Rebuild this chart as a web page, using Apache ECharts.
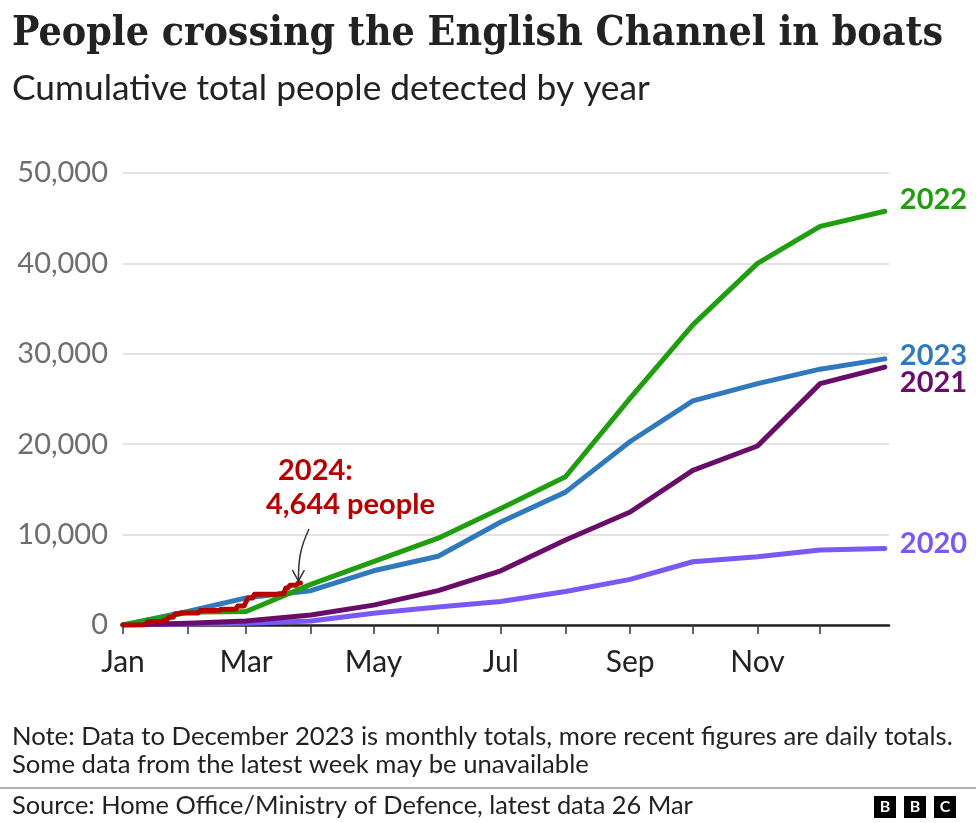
<!DOCTYPE html>
<html><head><meta charset="utf-8">
<script src="https://cdn.jsdelivr.net/npm/echarts@6/dist/echarts.min.js"></script>
<style>html,body{margin:0;padding:0;background:#fff}#c{width:976px;height:823px}</style>
</head><body><div id="c"></div>
<script>
// ---- data ----
const monthStartDays = [0, 31, 59, 90, 120, 151, 181, 212, 243, 273, 304, 334, 365];
const monthNames = ['Jan','Feb','Mar','Apr','May','Jun','Jul','Aug','Sep','Oct','Nov','Dec'];
const labeledDays = [0, 59, 120, 181, 243, 304];
const yearNames = ['2020', '2021', '2022', '2023'];
const cum2020 = [0, 100, 200, 450, 1300, 2000, 2600, 3700, 5050, 7000, 7550, 8300, 8470];
const cum2021 = [0, 200, 450, 1100, 2200, 3800, 6000, 9400, 12500, 17100, 19800, 26700, 28530];
const cum2022 = [0, 1400, 1500, 4500, 7000, 9600, 12900, 16400, 25100, 33200, 40000, 44100, 45770];
const cum2023 = [0, 1500, 3000, 3800, 6000, 7600, 11400, 14700, 20300, 24800, 26700, 28300, 29440];
// 2024 daily cumulative, 1 Jan (day 0) to 26 Mar (day 85)
const cum2024Daily = [
  0, 0, 0, 0, 0, 0, 0, 0, 0, 0,
  0, 150, 358, 358, 358, 358, 358, 358, 358, 358,
  550, 550, 870, 870, 870, 1250, 1250, 1250, 1330, 1330,
  1330, 1330, 1330, 1330, 1330, 1330, 1330, 1600, 1600, 1600,
  1600, 1600, 1600, 1600, 1600, 1600, 1600, 1750, 1750, 1750,
  1750, 1750, 1750, 1750, 1750, 2100, 2100, 2100, 2100, 2600,
  3000, 3000, 3000, 3400, 3400, 3400, 3400, 3400, 3400, 3400,
  3400, 3400, 3400, 3400, 3400, 3450, 3450, 3450, 4100, 4100,
  4400, 4400, 4400, 4400, 4644, 4644
];
const total2024 = 4644;

const colors = { '2020': '#7b57f3', '2021': '#6a0c6a', '2022': '#1f9e0f', '2023': '#3079bd', '2024': '#b80000' };
const endOffsets = { '2020': -5, '2021': 16, '2022': -12, '2023': -3 };
const yearData = { '2020': cum2020, '2021': cum2021, '2022': cum2022, '2023': cum2023 };

const SANS = 'Lato, "Noto Sans", sans-serif';
const SERIF = '"DejaVu Serif Condensed", "DejaVu Serif", serif';
function fit(text, family, weight, target) {
  const ctx = document.createElement('canvas').getContext('2d');
  ctx.font = weight + ' 100px ' + family;
  return 100 * target / ctx.measureText(text).width;
}

const chart = echarts.init(document.getElementById('c'), null, { renderer: 'canvas' });

const series = ['2020','2021','2023','2022'].map(y => ({
  name: y, type: 'line', showSymbol: false, symbol: 'none',
  data: yearData[y].map((v, i) => [monthStartDays[i], v]),
  lineStyle: { color: colors[y], width: 5, cap: 'round', join: 'round' },
  itemStyle: { color: colors[y] },
  endLabel: {
    show: true, formatter: y, color: colors[y], fontFamily: SANS, fontWeight: 'bold',
    fontSize: 29, distance: 15, offset: [0, endOffsets[y]]
  },
  z: 3, silent: true, animation: false
}));
series.push({
  name: '2024', type: 'line', showSymbol: false, symbol: 'none',
  data: cum2024Daily.map((v, i) => [i, v]),
  lineStyle: { color: colors['2024'], width: 5, cap: 'round', join: 'round' },
  z: 4, silent: true, animation: false
});

const titleText = 'People crossing the English Channel in boats';
const subText = 'Cumulative total people detected by year';
const note1 = 'Note: Data to December 2023 is monthly totals, more recent figures are daily totals.';
const note2 = 'Some data from the latest week may be unavailable';
const source = 'Source: Home Office/Ministry of Defence, latest data 26 Mar';

const titleSize = fit(titleText, SERIF, 'bold', 931);
const subSize = fit(subText, SANS, 'normal', 638);
const noteSize = fit(note1, SANS, 'normal', 941);
const srcSize = fit(source, SANS, 'normal', 681);

const option = {
  animation: false,
  grid: { left: 123, right: 976 - 889, top: 173, bottom: 823 - 625, containLabel: false },
  xAxis: {
    type: 'value', min: 0, max: 367,
    axisLine: { show: true, lineStyle: { color: '#222', width: 2.5 } },
    axisTick: { show: true, customValues: monthStartDays.slice(0, 12), length: 9, lineStyle: { color: '#333', width: 1.5 } },
    axisLabel: {
      customValues: labeledDays, fontFamily: SANS, fontSize: 30, color: '#222', margin: 22,
      formatter: v => monthNames[monthStartDays.indexOf(v)]
    },
    splitLine: { show: false }
  },
  yAxis: {
    type: 'value', min: 0, max: 50000, interval: 10000,
    axisLine: { show: false }, axisTick: { show: false },
    axisLabel: { fontFamily: SANS, fontSize: 29, color: '#6e6e6e', margin: 15,
      formatter: v => v.toLocaleString('en-GB') },
    splitLine: { lineStyle: { color: '#d9d9d9', width: 1.5 } }
  },
  series: series,
  graphic: []
};
chart.setOption(option);

const endPt = chart.convertToPixel({ xAxisIndex: 0, yAxisIndex: 0 }, [cum2024Daily.length - 1, total2024]);
const ax = endPt[0] - 2, ay = endPt[1] - 2;

chart.setOption({
  graphic: [
    { type: 'text', left: 12, top: 14, style: { text: titleText, font: 'bold ' + titleSize.toFixed(2) + 'px ' + SERIF, fill: '#222' } },
    { type: 'text', left: 12, top: 71, style: { text: subText, font: subSize.toFixed(2) + 'px ' + SANS, fill: '#222' } },
    { type: 'text', left: 278, top: 456, style: { text: '2024:', font: 'bold 29px ' + SANS, fill: colors['2024'] } },
    { type: 'text', left: 266, top: 490, style: { text: total2024.toLocaleString('en-GB') + ' people', font: 'bold 29px ' + SANS, fill: colors['2024'] } },
    { type: 'bezierCurve', shape: { x1: 309, y1: 529, cpx1: 300, cpy1: 548, cpx2: ax, cpy2: 560, x2: ax, y2: ay },
      style: { stroke: '#333', lineWidth: 1.5, fill: null }, z: 10 },
    { type: 'polyline', shape: { points: [[ax - 6, ay - 11], [ax, ay], [ax + 6, ay - 11]] },
      style: { stroke: '#333', lineWidth: 1.5, fill: null }, z: 10 },
    { type: 'text', left: 12, top: 724, style: { text: note1, font: noteSize.toFixed(2) + 'px ' + SANS, fill: '#222' } },
    { type: 'text', left: 12, top: 752, style: { text: note2, font: noteSize.toFixed(2) + 'px ' + SANS, fill: '#222' } },
    { type: 'line', shape: { x1: 0, y1: 788, x2: 976, y2: 788 }, style: { stroke: '#9a9a9a', lineWidth: 1.5 } },
    { type: 'text', left: 12, top: 793, style: { text: source, font: srcSize.toFixed(2) + 'px ' + SANS, fill: '#222' } },
    { type: 'rect', shape: { x: 874, y: 796, width: 22, height: 22 }, style: { fill: '#000' } },
    { type: 'rect', shape: { x: 904, y: 796, width: 22, height: 22 }, style: { fill: '#000' } },
    { type: 'rect', shape: { x: 934, y: 796, width: 22, height: 22 }, style: { fill: '#000' } },
    { type: 'text', x: 885, y: 807, style: { text: 'B', font: 'bold 16px ' + SANS, fill: '#fff', align: 'center', verticalAlign: 'middle' } },
    { type: 'text', x: 915, y: 807, style: { text: 'B', font: 'bold 16px ' + SANS, fill: '#fff', align: 'center', verticalAlign: 'middle' } },
    { type: 'text', x: 945, y: 807, style: { text: 'C', font: 'bold 16px ' + SANS, fill: '#fff', align: 'center', verticalAlign: 'middle' } }
  ]
});
</script>
</body></html>
